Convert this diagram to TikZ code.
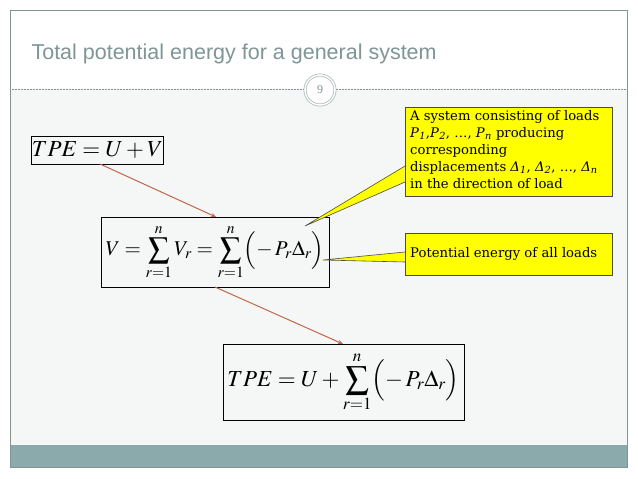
\documentclass[tikz,border=0pt]{standalone}
\usepackage{mathptmx}
\usepackage{fontspec}
\setmainfont{Liberation Serif}
\newfontfamily\titlefont{Liberation Sans}
\newfontfamily\callfont{DejaVu Serif}
\usetikzlibrary{arrows.meta}
\definecolor{frame}{HTML}{7F9596}
\definecolor{bar}{HTML}{8AAAAC}
\definecolor{content}{HTML}{F5F7F7}
\definecolor{titlec}{HTML}{7F9596}
\definecolor{arr}{HTML}{C0664A}
\definecolor{callyel}{HTML}{FFFF00}
\newcommand{\lims}[1]{\scriptstyle #1}
\tikzset{
 eqbox/.style={draw=black,line width=0.8pt,inner sep=0pt},
 conn/.style={draw=arr,line width=1pt,-{Stealth[length=5pt,width=4pt]}},
 calltext/.style={align=left,anchor=north west,inner sep=0pt,font=\callfont\fontsize{13.2}{17}\selectfont},
 callfill/.style={fill=callyel,draw=black!70,line width=0.6pt}
}
\begin{document}
\begin{tikzpicture}[x=1pt,y=-1pt]
\useasboundingbox (0,0) rectangle (638,479);
\fill[white] (0,0) rectangle (638,479);
\fill[white] (10,10) rectangle (627,89);
\fill[content] (10,89) rectangle (627,445);
\fill[bar] (10,445) rectangle (627,467);
\draw[frame,line width=0.6pt] (10,10) rectangle (627,467);
\draw[frame,densely dotted,line width=0.5pt] (10,89) -- (627,89);
\node[anchor=base west,text=titlec,font=\titlefont\fontsize{21.5}{24}\selectfont] (title) at (28,59) {Total potential energy for a general system};
\node[circle,fill=white,draw=frame!70,double=white,double distance=1.5pt,line width=0.7pt,minimum size=30pt,inner sep=0pt,font=\fontsize{12}{12}\selectfont,text=frame] (num) at (320,90) {9};
% equation boxes
\node[eqbox,minimum width=131pt,minimum height=28pt] (e1) at (97.5,150) {\fontsize{23}{23}\selectfont $TPE=U+V$};
\node[eqbox,minimum width=228pt,minimum height=70pt] (e2) at (215,252) {\fontsize{21}{21}\selectfont $V=\displaystyle\sum_{\lims{r=1}}^{\lims{n}}V_r=\sum_{\lims{r=1}}^{\lims{n}}\Bigl(-\,P_r\Delta_r\Bigr)$};
\node[eqbox,minimum width=241pt,minimum height=76pt] (e3) at (343.5,382) {\fontsize{23}{23}\selectfont $TPE=U+\displaystyle\sum_{\lims{r=1}}^{\lims{n}}\Bigl(-\,P_r\Delta_r\Bigr)$};
\coordinate (a1s) at (100,164);
\coordinate (a1e) at (216,217);
\coordinate (a2s) at (215,287);
\coordinate (a2e) at (343,344);
\draw[conn] (a1s) -- (a1e);
\draw[conn] (a2s) -- (a2e);
% callouts
\coordinate (t1) at (305,226);
\coordinate (t2) at (323,260);
\fill[callyel] (t1) -- (405,166) -- (405,182) -- cycle;
\draw[black!70,line width=0.6pt] (405,166) -- (t1) -- (405,182);
\fill[callyel] (t2) -- (405,252) -- (405,262) -- cycle;
\draw[black!70,line width=0.6pt] (405,252) -- (t2) -- (405,262);
\draw[callfill] (405,107) rectangle (612,196);
\draw[callfill] (405,233) rectangle (612,275);
\node[calltext] (c1) at (410,110) {A system consisting of loads\\ \textit{P}\textsubscript{\textit{1}},\textit{P}\textsubscript{\textit{2}}, \dots, \textit{P}\textsubscript{\textit{n}} producing\\ corresponding\\ displacements \textit{Δ}\textsubscript{\textit{1}}, \textit{Δ}\textsubscript{\textit{2}}, \dots, \textit{Δ}\textsubscript{\textit{n}}\\ in the direction of load};
\node[calltext,anchor=west] (c2) at (410,254) {Potential energy of all loads};
\end{tikzpicture}
\end{document}
